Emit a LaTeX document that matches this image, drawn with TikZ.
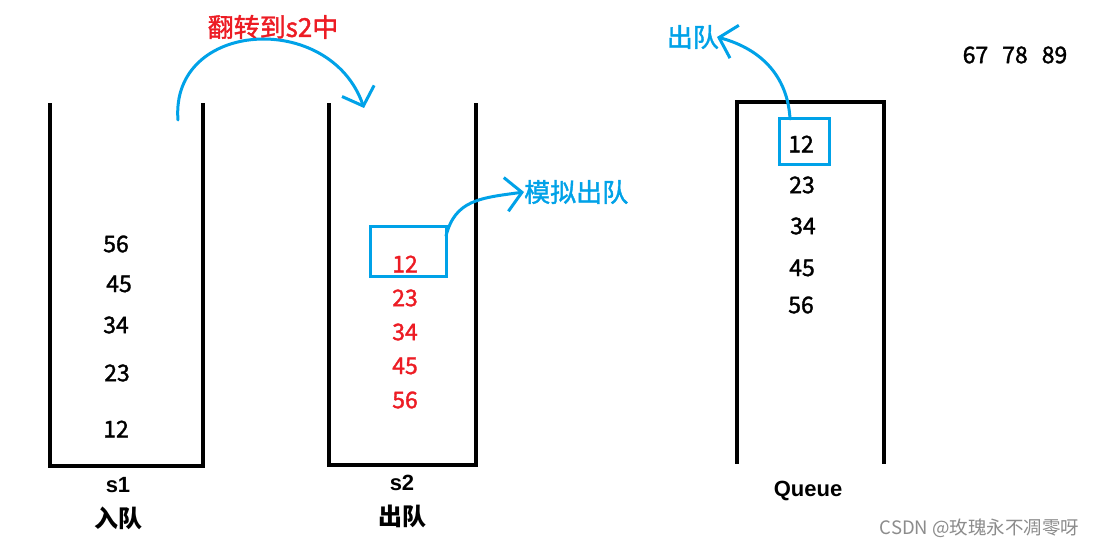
\documentclass[tikz,border=0pt]{standalone}
\usepackage{fontspec}
\setmainfont{Noto Sans CJK SC}
\newfontfamily\medfont[FakeBold=1.5]{Noto Sans CJK SC}
\newfontfamily\labfont{Liberation Sans}
\usetikzlibrary{arrows.meta}
\definecolor{myblue}{RGB}{0,162,232}
\definecolor{myred}{RGB}{237,28,36}
\tikzset{
  wall/.style={line width=4pt, line cap=rect},
  num/.style={font=\medfont\fontsize{23}{26}\selectfont, text=black, inner sep=0pt},
  rnum/.style={num, text=myred},
  hl/.style={draw=myblue, line width=3pt, inner sep=0pt},
  bluearr/.style={draw=myblue, line width=3pt, line cap=round, -{Straight Barb[length=16pt,width=34pt,line width=3pt]}},
  lab/.style={font=\bfseries\labfont\fontsize{22}{24}\selectfont, inner sep=0pt},
  cjklab/.style={font=\bfseries\fontsize{24}{26}\selectfont, inner sep=0pt},
  note/.style={font=\medfont\fontsize{26}{28}\selectfont, inner sep=0pt},
}
\begin{document}
\begin{tikzpicture}[x=1pt,y=-1pt]
\path[use as bounding box, fill=white] (0,0) rectangle (1096,548);
% containers
\draw[wall] (50,105) -- (50,466) -- (203,466) -- (203,105);
\draw[wall] (329,105) -- (329,465) -- (476,465) -- (476,105);
\draw[wall] (737,462) -- (737,102) -- (884,102) -- (884,462);
% s1
\node[num] (a56) at (116,244) {56};
\node[num] (a45) at (119,284) {45};
\node[num] (a34) at (116,325) {34};
\node[num] (a23) at (117,373) {23};
\node[num] (a12) at (116,429) {12};
% s2
\node[hl, minimum width=76pt, minimum height=50pt] (box2) at (408,252) {};
\node[rnum] (b12) at (405,264) {12};
\node[rnum] (b23) at (405,298) {23};
\node[rnum] (b34) at (405,332) {34};
\node[rnum] (b45) at (405,366) {45};
\node[rnum] (b56) at (405,400) {56};
% queue
\node[hl, minimum width=50pt, minimum height=46pt] (box3) at (804,142) {};
\node[num] (q12) at (801,144) {12};
\node[num] (q23) at (802,185) {23};
\node[num] (q34) at (803,226) {34};
\node[num] (q45) at (802,268) {45};
\node[num] (q56) at (801,305) {56};
\node[num] (rest) at (1015,55) {67\hspace{14pt}78\hspace{14pt}89};
% labels
\node[lab] (s1) at (118,485) {s1};
\node[cjklab] (in) at (118,518) {入队};
\node[lab] (s2) at (402,483) {s2};
\node[cjklab] (out) at (402,516) {出队};
\node[lab] (queue) at (808,491) {Queue};
\node[note, text=myred] (flip) at (273,27) {翻转到s2中};
\node[note, text=myblue, anchor=west] (sim) at (524,192) {模拟出队};
\node[note, text=myblue, anchor=east] (deq) at (719,37) {出队};
\node[font=\fontsize{18.5}{20}\selectfont, text=black!45, anchor=east] (wm) at (1083,528) {CSDN @玫瑰永不凋零呀};
% arrows
\coordinate (c1s) at (178,120);
\coordinate (c1e) at (364,108);
\draw[bluearr] (c1s) .. controls (170,20) and (330,10) .. (c1e);
\coordinate (c2s) at (446,236);
\draw[bluearr] (c2s) .. controls (455,200) and (480,198) .. (sim.west);
\coordinate (c3s) at (790,119);
\draw[bluearr] (c3s) .. controls (788,80) and (765,50) .. ([xshift=-2pt]deq.east);
\end{tikzpicture}
\end{document}
